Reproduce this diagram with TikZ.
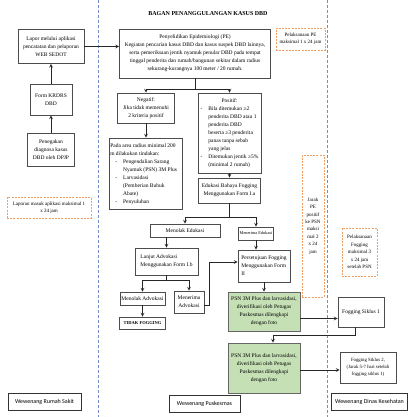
\documentclass[tikz,border=0pt]{standalone}
\usepackage{fontspec}
\setmainfont{Liberation Serif}
\newfontfamily\wewfont{Carlito}
\usepackage{tikz}
\usetikzlibrary{arrows,shapes,positioning,calc}
\usepackage{xcolor}
\definecolor{psngreen}{RGB}{197,224,180}
\definecolor{noteorange}{RGB}{240,160,100}
\definecolor{dividerblue}{RGB}{110,140,200}
\tikzstyle{arrow} = [->,>=stealth,line width=0.7pt,color=black!85]
\tikzstyle{conn} = [line width=0.7pt,color=black!85]
\tikzstyle{box} = [rectangle, draw=black!70, line width=0.7pt, fill=white, align=center, inner sep=1pt, font=\fontsize{5.5}{8}\selectfont]
\tikzstyle{greenbox} = [box, fill=psngreen, draw=black!60]
\tikzstyle{notebox} = [rectangle, draw=noteorange, dash pattern=on 2pt off 1.2pt, line width=0.8pt, align=center, inner sep=1pt, font=\fontsize{5}{7.4}\selectfont]
\tikzstyle{authbox} = [rectangle, draw=black!80, line width=0.8pt, font=\wewfont\fontsize{6}{7}\selectfont, minimum width=71pt, minimum height=17pt]
\tikzstyle{divider} = [dividerblue, line width=0.8pt, dash pattern=on 3pt off 2pt]

\begin{document}
\begin{tikzpicture}[x=1pt,y=1pt]
    \useasboundingbox (0,0) rectangle (417,-417);

    % Dividers
    \draw[divider] (98,0) -- (98,-417);
    \draw[divider] (327,0) -- (327,-417);

    % Title
    \node[font=\bfseries\fontsize{6}{7}\selectfont] (judul) at (208,-14) {BAGAN PENANGGULANGAN KASUS DBD};

    % Rumah Sakit
    \node[box, minimum width=66pt, minimum height=34pt] (lapor) at (51,-46.5) {Lapor melalui aplikasi\\pencatatan dan pelaporan\\WEB SEDOT};
    \node[box, minimum width=42pt, minimum height=31pt] (krdrs) at (51,-99.5) {Form KRDRS\\DBD};
    \node[box, minimum width=47pt, minimum height=33pt] (penegakan) at (51,-149.5) {Penegakan\\diagnosa kasus\\DBD oleh DPJP};
    \node[notebox, minimum width=84pt, minimum height=21pt] (lapmasuk) at (49,-207.5) {Laporan masuk aplikasi maksimal 1\\x 24 jam};
    \node[authbox, minimum width=73pt] (wewrs) at (44.5,-401.5) {Wewenang Rumah Sakit};

    % Puskesmas
    \node[box, minimum width=151pt, minimum height=49pt] (pe) at (195,-53.5) {Penyelidikan Epidemiologi (PE)\\Kegiatan pencarian kasus DBD dan kasus suspek DBD lainnya,\\serta pemeriksaan jentik nyamuk penular DBD pada tempat\\tinggal penderita dan rumah/bangunan sekitar dalam radius\\sekurang-kurangnya 100 meter / 20 rumah.};
    \node[notebox, minimum width=49pt, minimum height=22pt] (pelakspe) at (300.5,-39) {Pelaksanaan PE\\maksimal 1 x 24 jam};
    \node[box, minimum width=57pt, minimum height=30pt] (negatif) at (146,-108) {Negatif:\\Jika tidak memenuhi\\2 kriteria positif};
    \node[box, minimum width=63pt, minimum height=80pt] (positif) at (229.5,-133) {\begin{tabular}{@{}l@{\hspace{6pt}}l@{}}
        \multicolumn{2}{c}{Positif:}\\
        - & Bila ditemukan ≥2\\
          & penderita DBD atau 1\\
          & penderita DBD\\
          & beserta ≥3 penderita\\
          & panas tanpa sebab\\
          & yang jelas\\
        - & Ditemukan jentik ≥5\%\\
          & (minimal 2 rumah)
    \end{tabular}};
    \node[box, minimum width=73pt, minimum height=71pt] (area) at (146,-173.5) {\begin{tabular}{@{}l@{\hspace{6pt}}l@{}}
        \multicolumn{2}{@{}l}{Pada area radius minimal 200}\\
        \multicolumn{2}{@{}l}{m dilakukan tindakan:}\\
        \hspace{5pt}- & Pengendalian Sarang\\
          & Nyamuk (PSN) 3M Plus\\
        \hspace{5pt}- & Larvasidasi\\
          & (Pemberian Bubuk\\
          & Abate)\\
        \hspace{5pt}- & Penyuluhan
    \end{tabular}};
    \node[box, minimum width=62pt, minimum height=25pt] (edukasi) at (229.5,-190.5) {Edukasi Bahaya Fogging\\Menggunakan Form I.a};
    \node[box, minimum width=70pt, minimum height=13pt] (tolakedu) at (185,-230.5) {Menolak Edukasi};
    \node[box, minimum width=33pt, minimum height=13pt, font=\fontsize{4.3}{5}\selectfont] (terimaedu) at (256,-233.5) {Menerima Edukasi};
    \node[box, minimum width=63pt, minimum height=27pt, align=left] (lanjut) at (166.5,-261.5) {Lanjut Advokasi\\Menggunakan Form I.b};
    \node[box, minimum width=52pt, minimum height=32pt, align=left] (setuju) at (264,-266) {Persetujuan Fogging\\Menggunakan Form\\II};
    \node[box, minimum width=45pt, minimum height=13pt] (tolakadv) at (142.5,-298.5) {Menolak Advokasi};
    \node[box, minimum width=30pt, minimum height=22pt] (terimaadv) at (189,-302) {Menerima\\Advokasi};
    \node[box, minimum width=46pt, minimum height=12pt, font=\bfseries\fontsize{4.5}{5}\selectfont] (tidak) at (142.5,-323) {TIDAK FOGGING};
    \node[greenbox, minimum width=72pt, minimum height=39pt] (psn1) at (264,-311.5) {PSN 3M Plus dan larvasidasi,\\diverifikasi oleh Petugas\\Puskesmas dilengkapi\\dengan foto};
    \node[greenbox, minimum width=72pt, minimum height=50pt] (psn2) at (264,-368) {PSN 3M Plus dan larvasidasi,\\diverifikasi oleh Petugas\\Puskesmas dilengkapi\\dengan foto};
    \node[notebox, minimum width=22pt, minimum height=142pt] (jarak) at (313,-226) {Jarak\\PE\\positif\\ke PSN\\maksi\\mal 2\\x 24\\jam};
    \node[authbox] (wewpusk) at (204.5,-403.5) {Wewenang Puskesmas};

    % Dinas Kesehatan
    \node[notebox, minimum width=35pt, minimum height=48pt] (pelaksfog) at (359.5,-252) {Pelaksanaan\\Fogging\\maksimal 3\\x 24 jam\\setelah PSN};
    \node[box, minimum width=46pt, minimum height=30pt] (fog1) at (361,-312) {Fogging Siklus 1};
    \node[box, minimum width=56pt, minimum height=31pt, font=\fontsize{4.8}{7}\selectfont] (fog2) at (368,-367.5) {Fogging Siklus 2,\\(Jarak 5-7 hari setelah\\fogging siklus 1)};
    \node[authbox] (wewdin) at (369.5,-401.5) {Wewenang Dinas Kesehatan};

    % Arrows
    \draw[arrow] (penegakan) -- (krdrs);
    \draw[arrow] (krdrs) -- (lapor);
    \draw[arrow] (lapor.east) -- (lapor.east -| pe.west);
    \draw[conn] (pe.south) -- ++(0,-11) coordinate (pesplit);
    \draw[arrow] (pesplit) -| (negatif.north);
    \draw[arrow] (pesplit) -| (positif.north);
    \draw[arrow] (negatif) -- (area);
    \draw[arrow] (positif) -- (edukasi);
    \draw[conn] (edukasi.south) -- ++(0,-14) coordinate (edusplit);
    \draw[arrow] (edusplit) -| (tolakedu.north);
    \draw[arrow] (edusplit) -| (terimaedu.north);
    \draw[arrow] (tolakedu.south -| lanjut.north) -- (lanjut.north);
    \draw[conn] (lanjut.south) -- ++(0,-5) coordinate (advsplit);
    \draw[arrow] (advsplit) -| (tolakadv.north);
    \draw[arrow] (advsplit) -| (terimaadv.north);
    \draw[arrow] (tolakadv) -- (tidak);
    \draw[arrow] ([yshift=-3pt]terimaadv.east) -- ++(5,0) |- ([yshift=4pt]setuju.west);
    \draw[arrow] (terimaedu.south) -- (terimaedu.south |- setuju.north);
    \draw[arrow] (setuju) -- (psn1);
    \draw[arrow] ([yshift=-7pt]psn1.east) -- ([yshift=-7pt]psn1.east -| fog1.west);
    \draw[arrow] ([xshift=-6pt]fog1.south) -- ++(0,-8) -| ([xshift=9pt]psn2.north);
    \draw[arrow] ([yshift=-2pt]psn2.east) -- ([yshift=-2pt]psn2.east -| fog2.west);
\end{tikzpicture}
\end{document}
